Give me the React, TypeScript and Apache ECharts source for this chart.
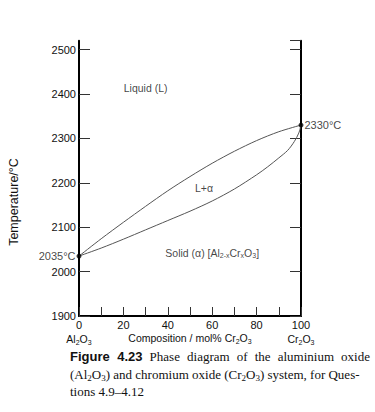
import React, { useEffect, useRef } from "react";
import * as echarts from "echarts";

// Liquidus (upper curve): composition mol% Cr2O3 vs temperature °C
const liquidusComp = [0, 10, 20, 30, 40, 50, 60, 70, 80, 90, 100];
const liquidusTemp = [2035, 2074, 2111, 2147, 2182, 2214, 2244, 2271, 2295, 2315, 2330];
// Solidus (lower curve)
const solidusComp = [0, 10, 20, 30, 40, 50, 60, 70, 80, 85, 90, 94, 97, 99, 100];
const solidusTemp = [2035, 2053, 2073, 2094, 2115, 2136, 2159, 2186, 2218, 2236, 2256, 2273, 2293, 2312, 2330];

// Melting points of the pure oxides
const meltComp = [0, 100];
const meltTemp = [2035, 2330];
const meltLabels = ["2035°C", "2330°C"];

// Region labels
const regionComp = [30, 56.3, 60];
const regionTemp = [2413, 2188, 2043];
const regionTexts = [
  "{t|Liquid (L)}",
  "{t|L+α}",
  "{t|Solid (α) [Al}{s|2-x}{t|Cr}{s|x}{t|O}{s|3}{t|]}",
];

const xMin = 0;
const xMax = 100;
const xInterval = 10;
const xLabelStep = 20;
const yMin = 1900;
const yMax = 2520;
const yInterval = 100;

const FONT = "Liberation Sans";

export default function App() {
  const ref = useRef<HTMLDivElement>(null);

  useEffect(() => {
    if (!ref.current) return;
    const chart = echarts.init(ref.current, undefined, { renderer: "svg" });
    const subStyle = { fontSize: 7, fontFamily: FONT, color: "#111", verticalAlign: "bottom", lineHeight: 8 };
    const axisRich = {
      n: { fontSize: 11, fontFamily: FONT, color: "#111", lineHeight: 14 },
      c: { fontSize: 10.5, fontFamily: FONT, color: "#111", lineHeight: 14 },
      s: subStyle,
    };
    const lineStyleAxis = { color: "#000", width: 2 };
    const option: any = {
      animation: false,
      grid: { left: 79, right: 74, top: 40.7, bottom: 96, containLabel: false },
      xAxis: {
        type: "value",
        min: xMin,
        max: xMax,
        interval: xInterval,
        axisLine: { show: true, lineStyle: lineStyleAxis },
        axisTick: { show: true, inside: true, length: 9, lineStyle: { color: "#333", width: 1 } },
        splitLine: { show: false },
        axisLabel: {
          margin: 2,
          showMinLabel: true,
          showMaxLabel: true,
          formatter: (v: number) => {
            if (v % xLabelStep !== 0) return "";
            if (v === xMin) return "{n|" + v + "}\n{c|Al}{s|2}{c|O}{s|3}";
            if (v === xMax) return "{n|" + v + "}\n{c|Cr}{s|2}{c|O}{s|3}";
            return "{n|" + v + "}";
          },
          rich: axisRich,
          color: "#111",
        },
        name: "{c|Composition / mol% Cr}{s|2}{c|O}{s|3}",
        nameLocation: "middle",
        nameGap: 15,
        nameMoveOverlap: false,
        nameTextStyle: { rich: axisRich, verticalAlign: "top" },
      },
      yAxis: [
        {
          type: "value",
          min: yMin,
          max: yMax,
          interval: yInterval,
          position: "left",
          axisLine: { show: true, lineStyle: lineStyleAxis },
          axisTick: { show: true, inside: true, length: 11, lineStyle: { color: "#333", width: 1 } },
          splitLine: { show: false },
          axisLabel: {
            margin: 3,
            fontSize: 11,
            fontFamily: FONT,
            color: "#111",
            showMaxLabel: false,
            formatter: (v: number) => (v % yInterval === 0 ? String(v) : ""),
          },
        },
        {
          type: "value",
          min: yMin,
          max: yMax,
          interval: yInterval,
          position: "right",
          axisLine: { show: true, onZero: false, lineStyle: lineStyleAxis },
          axisTick: { show: true, inside: true, length: 11, lineStyle: { color: "#333", width: 1 } },
          splitLine: { show: false },
          axisLabel: { show: false },
        },
      ],
      graphic: [
        {
          type: "text",
          x: 14,
          y: 202,
          rotation: Math.PI / 2,
          style: {
            text: "Temperature/°C",
            fontSize: 12.5,
            fontFamily: FONT,
            fill: "#111",
            align: "center",
            verticalAlign: "middle",
          },
        },
      ],
      series: [
        {
          type: "line",
          name: "liquidus",
          data: liquidusComp.map((c, i) => [c, liquidusTemp[i]]),
          smooth: 0.3,
          symbol: "none",
          lineStyle: { color: "#555", width: 1 },
          clip: false,
        },
        {
          type: "line",
          name: "solidus",
          data: solidusComp.map((c, i) => [c, solidusTemp[i]]),
          smooth: 0.3,
          symbol: "none",
          lineStyle: { color: "#555", width: 1 },
          clip: false,
        },
        {
          type: "scatter",
          name: "melting points",
          symbolSize: 5,
          itemStyle: { color: "#000" },
          clip: false,
          z: 5,
          data: meltComp.map((c, i) => ({
            value: [c, meltTemp[i]],
            label: {
              show: true,
              position: i === 0 ? "left" : "right",
              distance: 1,
              formatter: meltLabels[i],
              fontSize: 11,
              fontFamily: FONT,
              color: "#111",
            },
          })),
        },
        {
          type: "scatter",
          name: "regions",
          symbolSize: 0,
          silent: true,
          clip: false,
          data: regionComp.map((c, i) => ({
            value: [c, regionTemp[i]],
            label: {
              show: true,
              position: "inside",
              formatter: regionTexts[i],
              rich: {
                t: { fontSize: 10.5, fontFamily: FONT, color: "#111", lineHeight: 13 },
                s: subStyle,
              },
            },
          })),
        },
      ],
    };
    chart.setOption(option);
    return () => chart.dispose();
  }, []);

  const capStyle: React.CSSProperties = {
    fontFamily: "'Liberation Serif', serif",
    fontSize: 13,
    lineHeight: "17.5px",
    color: "#111",
    whiteSpace: "nowrap",
  };
  const subS: React.CSSProperties = { fontSize: 9, verticalAlign: "-2px", lineHeight: 0 };

  return (
    <div style={{ position: "absolute", left: 0, top: 0, width: 375, height: 412, background: "#fff" }}>
      <div ref={ref} style={{ position: "absolute", left: 0, top: 0, width: 375, height: 412 }} />
      <div style={{ position: "absolute", left: 70, top: 348, width: 300 }}>
        <div style={{ ...capStyle, textAlign: "justify", textAlignLast: "justify" } as React.CSSProperties}>
          <span style={{ fontFamily: "'Liberation Sans', sans-serif", fontWeight: "bold" }}>Figure 4.23</span>
          {"  "}Phase diagram of the aluminium oxide
        </div>
        <div style={capStyle}>
          (Al<span style={subS}>2</span>O<span style={subS}>3</span>) and chromium oxide (Cr
          <span style={subS}>2</span>O<span style={subS}>3</span>) system, for Ques-
        </div>
        <div style={capStyle}>tions 4.9–4.12</div>
      </div>
    </div>
  );
}
